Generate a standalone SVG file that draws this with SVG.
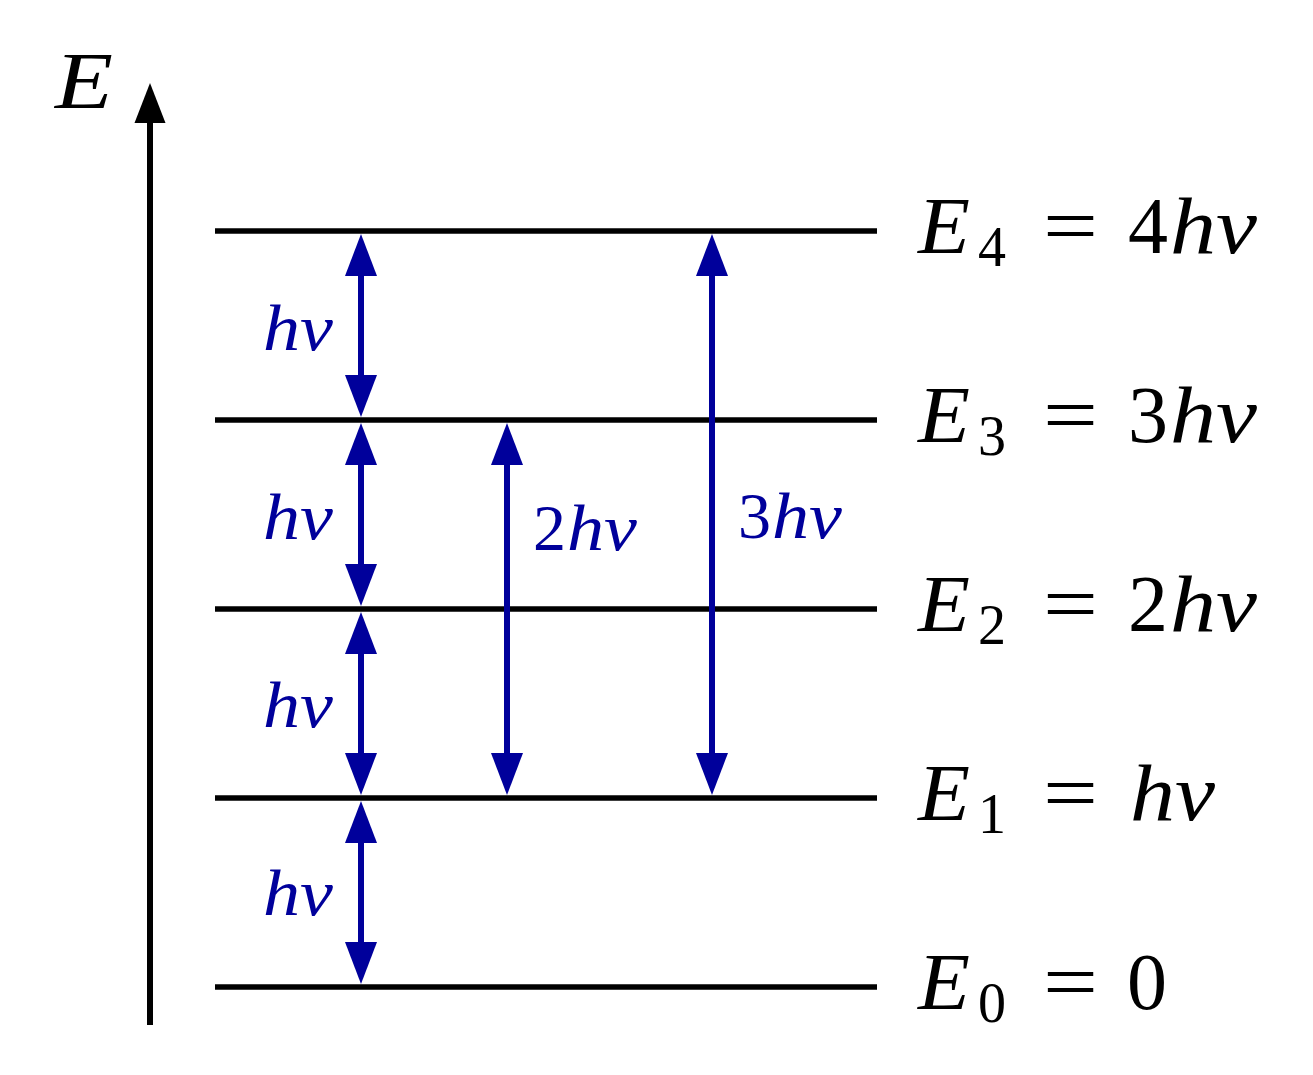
<svg xmlns="http://www.w3.org/2000/svg" width="1313" height="1075" viewBox="0 0 1313 1075">
<style>
.lvl{stroke:#000;stroke-width:5.5;fill:none}
.ax{stroke:#000;stroke-width:6;fill:none}
.tr{stroke:#00009B;stroke-width:6;fill:none;marker-start:url(#bh);marker-end:url(#bh)}
.t{font-family:"Liberation Serif","DejaVu Serif",serif;fill:#000}
.b{font-family:"Liberation Serif","DejaVu Serif",serif;fill:#00009B;font-size:66px}
.i{font-style:italic}
</style>
<defs>
<marker id="bh" viewBox="0 -17 44 34" markerWidth="44" markerHeight="34" refX="1" refY="0" orient="auto-start-reverse" markerUnits="userSpaceOnUse" overflow="visible">
<path d="M0,-16 L42,0 L0,16 z" fill="#00009B"/>
</marker>
<marker id="kh" viewBox="0 -17 44 34" markerWidth="44" markerHeight="34" refX="1" refY="0" orient="auto" markerUnits="userSpaceOnUse" overflow="visible">
<path d="M0,-15.5 L40,0 L0,15.5 z" fill="#000"/>
</marker>
</defs>
<g id="axis">
<line class="ax" x1="150" y1="1025" x2="150" y2="122" marker-end="url(#kh)"/>
<text class="t i" x="55" y="108" font-size="80" textLength="58" lengthAdjust="spacingAndGlyphs">E</text>
</g>
<g id="level4">
<line class="lvl" x1="215" y1="231" x2="877" y2="231"/>
<text class="t" y="253" font-size="80"><tspan class="i" x="918" textLength="52" lengthAdjust="spacingAndGlyphs">E</tspan><tspan x="978" dy="13" font-size="56">4</tspan><tspan x="1043" dy="-13" textLength="55" lengthAdjust="spacingAndGlyphs">=</tspan><tspan x="1128">4</tspan><tspan class="i" x="1170" textLength="87" lengthAdjust="spacingAndGlyphs">hν</tspan></text>
</g>
<g id="level3">
<line class="lvl" x1="215" y1="420" x2="877" y2="420"/>
<text class="t" y="442" font-size="80"><tspan class="i" x="918" textLength="52" lengthAdjust="spacingAndGlyphs">E</tspan><tspan x="978" dy="13" font-size="56">3</tspan><tspan x="1043" dy="-13" textLength="55" lengthAdjust="spacingAndGlyphs">=</tspan><tspan x="1128">3</tspan><tspan class="i" x="1170" textLength="87" lengthAdjust="spacingAndGlyphs">hν</tspan></text>
</g>
<g id="level2">
<line class="lvl" x1="215" y1="609" x2="877" y2="609"/>
<text class="t" y="631" font-size="80"><tspan class="i" x="918" textLength="52" lengthAdjust="spacingAndGlyphs">E</tspan><tspan x="978" dy="13" font-size="56">2</tspan><tspan x="1043" dy="-13" textLength="55" lengthAdjust="spacingAndGlyphs">=</tspan><tspan x="1128">2</tspan><tspan class="i" x="1170" textLength="87" lengthAdjust="spacingAndGlyphs">hν</tspan></text>
</g>
<g id="level1">
<line class="lvl" x1="215" y1="798" x2="877" y2="798"/>
<text class="t" y="820" font-size="80"><tspan class="i" x="918" textLength="52" lengthAdjust="spacingAndGlyphs">E</tspan><tspan x="978" dy="13" font-size="56">1</tspan><tspan x="1043" dy="-13" textLength="55" lengthAdjust="spacingAndGlyphs">=</tspan><tspan class="i" x="1130" textLength="85" lengthAdjust="spacingAndGlyphs">hν</tspan></text>
</g>
<g id="level0">
<line class="lvl" x1="215" y1="987" x2="877" y2="987"/>
<text class="t" y="1009" font-size="80"><tspan class="i" x="918" textLength="52" lengthAdjust="spacingAndGlyphs">E</tspan><tspan x="978" dy="13" font-size="56">0</tspan><tspan x="1043" dy="-13" textLength="55" lengthAdjust="spacingAndGlyphs">=</tspan><tspan x="1127">0</tspan></text>
</g>
<g id="connectors">
<line class="tr" x1="361" y1="275" x2="361" y2="376"/>
<line class="tr" x1="361" y1="464" x2="361" y2="565"/>
<line class="tr" x1="361" y1="653" x2="361" y2="754"/>
<line class="tr" x1="361" y1="842" x2="361" y2="943"/>
<line class="tr" x1="507" y1="464" x2="507" y2="754"/>
<line class="tr" x1="712" y1="275" x2="712" y2="754"/>
</g>
<g id="labels">
<text class="b i" x="263" y="350" textLength="70" lengthAdjust="spacingAndGlyphs">hν</text>
<text class="b i" x="263" y="539" textLength="70" lengthAdjust="spacingAndGlyphs">hν</text>
<text class="b i" x="263" y="727" textLength="70" lengthAdjust="spacingAndGlyphs">hν</text>
<text class="b i" x="263" y="915" textLength="70" lengthAdjust="spacingAndGlyphs">hν</text>
<text class="b" x="533" y="550">2<tspan class="i" x="567" textLength="70" lengthAdjust="spacingAndGlyphs">hν</tspan></text>
<text class="b" x="738" y="538">3<tspan class="i" x="772" textLength="70" lengthAdjust="spacingAndGlyphs">hν</tspan></text>
</g>
</svg>
